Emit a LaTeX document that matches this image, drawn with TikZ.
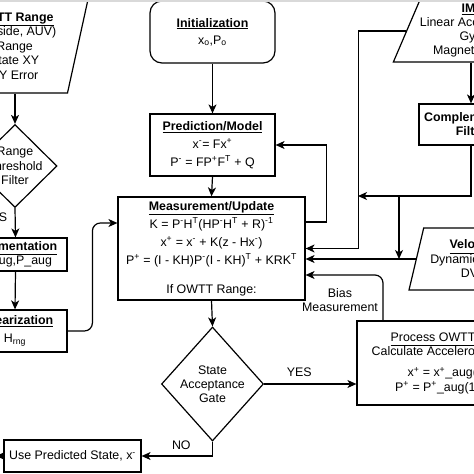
\documentclass[tikz,border=0pt]{standalone}
\usepackage{fontspec}
\setmainfont{Liberation Sans}
\usetikzlibrary{arrows.meta,shapes.geometric}
\tikzset{>={Stealth[length=9pt,width=8pt,inset=2.5pt]}}
\tikzset{
	box/.style={draw, line width=1.2pt, inner sep=0pt, align=center},
	spc/.style={font=\fontsize{12.4}{#1}\selectfont},
	gate/.style={diamond, draw, line width=1.2pt, inner sep=-10pt, align=center},
	iobox/.style 2 args={trapezium, trapezium left angle=#1, trapezium right angle=#2,
			trapezium stretches body, draw, line width=1.2pt, inner sep=0pt, align=center},
	flow/.style={->, line width=1.2pt}
}

\begin{document}
\begin{tikzpicture}[x=1pt, y=1pt, font=\fontsize{12.4}{14.5}\selectfont]
	\useasboundingbox (0,0) rectangle (474,-474);

	% left column
	\node[iobox={72.85}{107.15}, minimum width=147pt, minimum height=94pt] (owtt) at (14.6,-46)
		{\textbf{\underline{OWTT Range}}\\(Topside, AUV)\\Range\\State XY\\XY Error};
	\node[gate, minimum width=84pt, minimum height=83pt] (rtf) at (15,-166) {Range\\Threshold\\Filter};
	\node[box, minimum width=103pt, minimum height=33pt] (aug) at (15.5,-254.5)
		{\textbf{\underline{Augmentation}}\\x\_aug,P\_aug};
	\node[box, spc=18, minimum width=104pt, minimum height=42pt] (lin) at (15,-331)
		{\textbf{\underline{Linearization}}\\H\textsubscript{rng}};

	% filter column
	\node[box, spc=17, rounded corners=12pt, minimum width=125pt, minimum height=62pt] (init) at (212.5,-32)
		{\textbf{\underline{Initialization}}\\x\textsubscript{o},P\textsubscript{o}};
	\node[box, spc=18, minimum width=125pt, minimum height=62pt] (pred) at (212.5,-145)
		{\textbf{\underline{Prediction/Model}}\\x\textsuperscript{-}= Fx\textsuperscript{+}\\P\textsuperscript{-} = FP\textsuperscript{+}F\textsuperscript{T} + Q};
	\node[box, spc=18, minimum width=187pt, minimum height=103pt] (meas) at (211.5,-248.5)
		{\textbf{\underline{Measurement/Update}}\\K = P\textsuperscript{-}H\textsuperscript{T}(HP\textsuperscript{-}H\textsuperscript{T} + R)\textsuperscript{-1}\\x\textsuperscript{+} = x\textsuperscript{-} + K(z - Hx\textsuperscript{-})\\P\textsuperscript{+} = (I - KH)P\textsuperscript{-}(I - KH)\textsuperscript{T} + KRK\textsuperscript{T}\\[11pt]If OWTT Range:};
	\node[gate, spc=14, minimum width=102pt, minimum height=114pt] (sag) at (212.5,-384) {State\\Acceptance\\Gate};
	\node[box, minimum width=137pt, minimum height=32pt] (ups) at (72.5,-456) {Use Predicted State, x\textsuperscript{-}};
	\node[box, minimum width=192pt, minimum height=84pt] (pob) at (453,-363)
		{\underline{Process OWTT Range}\\Calculate Accelerometer Bias\\[6.5pt]x\textsuperscript{+} = x\textsuperscript{+}\_aug(1:3)\\P\textsuperscript{+} = P\textsuperscript{+}\_aug(1:3,1:3)};

	% sensors
	\node[iobox={63.43}{116.57}, spc=14, minimum width=158pt, minimum height=62pt] (imu) at (473,-31)
		{\textbf{\underline{IMU}}\\Linear Acceleration\\Gyro\\Magnetometer};
	\node[box, spc=14, minimum width=104pt, minimum height=41pt] (cf) at (471,-124.5)
		{\textbf{Complementary}\\\textbf{Filter}};
	\node[iobox={68.84}{111.16}, spc=14.5, minimum width=128pt, minimum height=62pt] (vel) at (473,-259)
		{\textbf{\underline{Velocity}}\\Dynamic Model\\DVL};

	\coordinate (imujoin) at (358,-196);
	\coordinate (velbranch) at (399,-196);
	\coordinate (upsout) at (-4,-456);

	\draw[flow] (owtt.south -| rtf.north) -- (rtf.north);
	\draw[flow] (rtf.south) -- node[pos=0.32, left=4pt] {YES} (aug.north);
	\draw[flow] (aug.south) -- (lin.north);
	\draw[flow, rounded corners=8pt] (lin.east) -| ([xshift=-25pt, yshift=25.5pt]meas.west) -- ([yshift=25.5pt]meas.west);
	\draw[flow] (init.south) -- (pred.north);
	\draw[flow] (pred.south) -- (meas.north);
	\draw[flow] ([yshift=26.5pt]meas.east) -| ([xshift=51pt]pred.east) -- (pred.east);
	\draw[flow] (meas.south) -- (sag.north);
	\draw[flow] (sag.south) |- node[pos=0.72, above=2pt] {NO} (ups.east);
	\draw[flow] (ups.west) -- (upsout);
	\draw[flow] (sag.east) -- node[pos=0.38, above=3pt] {YES} (sag.east -| pob.west);
	\draw[flow, rounded corners=8pt] ([xshift=-70pt]pob.north) |- node[xshift=-43pt, yshift=-25pt, align=center] {Bias\\Measurement} ([yshift=-26.5pt]meas.east);
	\draw[flow] (imu.180) -| ([xshift=53pt]meas.east) -- (meas.east);
	\draw[flow] (imu.south -| cf.north) -- (cf.north);
	\draw[flow] (cf.south) |- (imujoin);
	\draw[flow] (velbranch) -- (velbranch |- vel.180);
	\draw[flow] (vel.180) -- (vel.180 -| meas.east);

	\fill[gray!30] (0,0) rectangle (474,-1.5);
\end{tikzpicture}
\end{document}
